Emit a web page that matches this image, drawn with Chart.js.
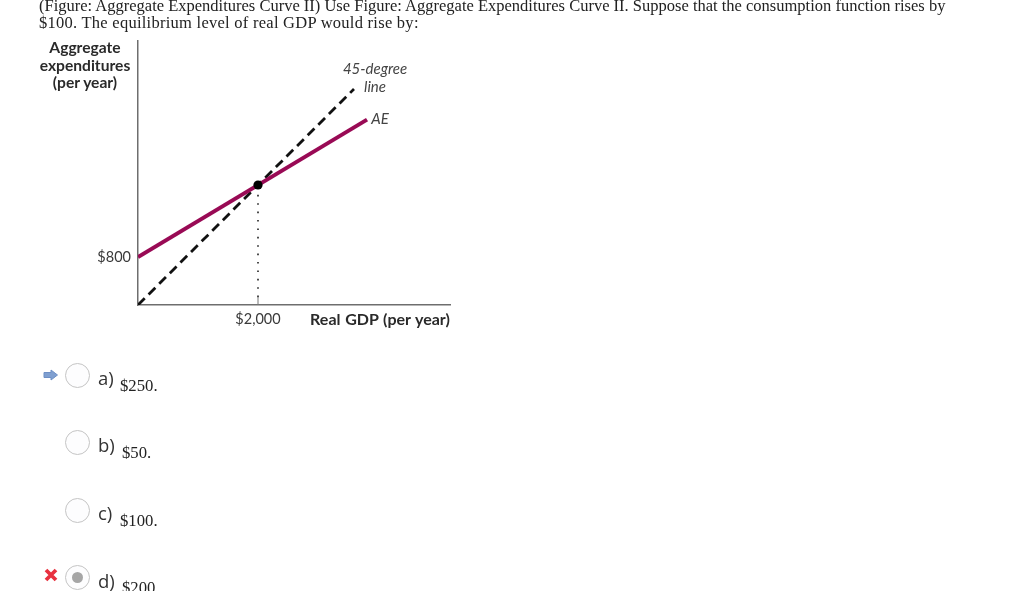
<!DOCTYPE html>
<html><head><meta charset="utf-8">
<script src="https://cdn.jsdelivr.net/npm/chart.js@4"></script>
<style>
html,body{margin:0;padding:0;background:#fff;width:1018px;height:591px;overflow:hidden}
#c{position:absolute;left:0;top:0}
.t{position:absolute;white-space:nowrap;line-height:1}
.q{font-family:"Liberation Serif",serif;font-size:16.5px;color:#222;left:39px}
.ax{font-family:"Lato","Noto Sans",sans-serif;font-weight:700;font-size:15.6px;color:#2a2a2a;text-align:center}
.it{font-family:"Lato","Noto Sans",sans-serif;font-style:italic;font-size:15px;color:#444;text-align:center}
.let{font-family:"Open Sans",sans-serif;font-size:18.5px;color:#333}
.ans{font-family:"Liberation Serif",serif;font-size:16.7px;color:#222}
.r{position:absolute;left:65px;width:23px;height:23px;border:1px solid #c4c4c4;border-radius:50%;background:#fdfdfe}
.r i{position:absolute;left:6px;top:6px;width:11px;height:11px;border-radius:50%;background:#a6a6a6}
svg{position:absolute}
</style></head><body>
<canvas id="c" width="1018" height="591"></canvas>
<div class="t q" style="top:-2px">(Figure: Aggregate Expenditures Curve II) Use Figure: Aggregate Expenditures Curve II. Suppose that the consumption function rises by</div>
<div class="t q" style="top:15px;letter-spacing:.26px">$100. The equilibrium level of real GDP would rise by:</div>
<div class="t ax" style="left:35px;width:100px;top:39px;line-height:17.5px">Aggregate<br>expenditures<br>(per year)</div>
<div class="t ax" style="left:300px;width:160px;top:311px;font-size:16px;word-spacing:.8px">Real GDP (per year)</div>
<div class="t it" style="left:335px;width:80px;top:60px;line-height:17.5px">45-degree<br>line</div>
<div class="t it" style="left:360px;width:40px;top:111px">AE</div>
<svg style="left:43px;top:369px" width="16" height="12"><path d="M1 3.5H8V1L14.5 6 8 11V8.500H1Z" fill="#7f9fd0" stroke="#6d8fc5" stroke-width="1"/></svg>
<svg style="left:44px;top:568px" width="14" height="14"><path d="M2 2 12 12M12 2 2 12" stroke="#e8313f" stroke-width="3.800"/></svg>
<div class="r" style="top:363px"></div>
<div class="r" style="top:430px"></div>
<div class="r" style="top:498px"></div>
<div class="r" style="top:565px"><i></i></div>
<div class="t let" style="left:98px;top:369px">a)</div><div class="t ans" style="left:120px;top:378px">$250.</div>
<div class="t let" style="left:98px;top:436px">b)</div><div class="t ans" style="left:122px;top:445px">$50.</div>
<div class="t let" style="left:98px;top:504px">c)</div><div class="t ans" style="left:120px;top:513px">$100.</div>
<div class="t let" style="left:98px;top:572px">d)</div><div class="t ans" style="left:122px;top:580px">$200</div>
<script>
const xTicks = [2000];
const yTicks = [800];
const line45X = [0, 3600];
const line45Y = [0, 3600];
const aeX = [0, 3817];
const aeY = [800, 3090];
const equilibriumX = [2000];
const equilibriumY = [2000];
const dropX = [2000, 2000];
const dropY = [130, 2000];
const tickX = [2000, 2000];
const tickY = [0, 130];
const xMax = 5200;
const yMax = 4400;
const pts = (xs, ys) => xs.map((x, i) => ({x, y: ys[i]}));
const font = {family: '"Lato","Noto Sans",sans-serif', size: 14.5};
new Chart(document.getElementById('c'), {
  type: 'scatter',
  data: {datasets: [
    {label: 'Equilibrium', data: pts(equilibriumX, equilibriumY), pointRadius: 4.600, pointBackgroundColor: '#000', pointBorderWidth: 0},
    {label: 'AE', data: pts(aeX, aeY), showLine: true, borderColor: '#990a55', borderWidth: 4, pointRadius: 0},
    {label: 'Drop', data: pts(dropX, dropY), showLine: true, borderColor: '#222', borderWidth: 1.600, borderDash: [1.600, 6.800], pointRadius: 0},
    {label: 'Tick', data: pts(tickX, tickY), showLine: true, borderColor: '#777', borderWidth: 1, pointRadius: 0},
    {label: '45-degree line', data: pts(line45X, line45Y), showLine: true, borderColor: '#111', borderWidth: 2.800, borderDash: [9.500, 5.500], pointRadius: 0}
  ]},
  options: {
    responsive: false, animation: false, devicePixelRatio: 1,
    layout: {padding: {left: 38, top: 41, right: 568, bottom: 256}},
    plugins: {legend: {display: false}, tooltip: {enabled: false}},
    scales: {
      x: {type: 'linear', min: 0, max: xMax,
        afterBuildTicks: s => { s.ticks = xTicks.map(value => ({value})); },
        afterFit: s => { s.height = 30; },
        grid: {display: false, drawTicks: false, tickLength: 0},
        border: {color: '#6e6e6e', width: 1.500},
        ticks: {callback: v => '$' + v.toLocaleString('en-US'), color: '#3a3a3a', font, padding: 6, maxRotation: 0, autoSkip: false}},
      y: {type: 'linear', min: 0, max: yMax,
        afterBuildTicks: s => { s.ticks = yTicks.map(value => ({value})); },
        afterFit: s => { s.width = 100; },
        grid: {display: false, drawTicks: false, tickLength: 0},
        border: {color: '#6e6e6e', width: 1.500},
        ticks: {callback: v => '$' + v, color: '#3a3a3a', font, padding: 7, autoSkip: false}}
    }
  }
});
</script>
</body></html>
